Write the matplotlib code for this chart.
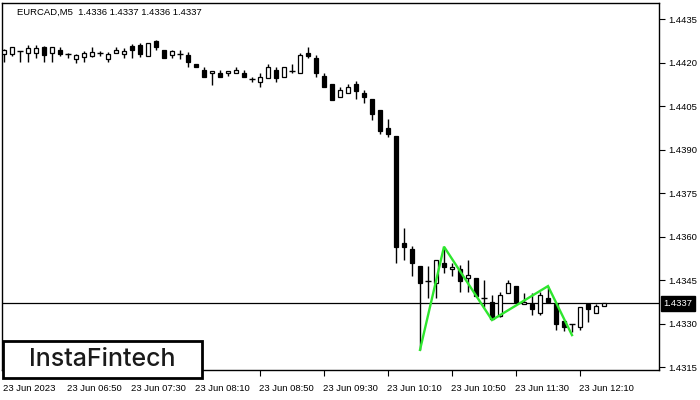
import matplotlib
matplotlib.use("Agg")

import matplotlib.pyplot as plt
import matplotlib.transforms as mtransforms
from matplotlib.patches import Rectangle

# EURCAD M5, 23 Jun 2023, one bar every 5 minutes from 06:10
opens = [
    1.44229, 1.44229, 1.44241, 1.44234, 1.44234, 1.44252, 1.44232, 1.44243, 1.44229, 1.44211,
    1.44218, 1.44222, 1.44232, 1.44211, 1.44234, 1.44229, 1.44257, 1.44260, 1.44222, 1.44274,
    1.44243, 1.44226, 1.44229, 1.44226, 1.44195, 1.44174, 1.44163, 1.44165, 1.44163, 1.44163,
    1.44165, 1.44142, 1.44134, 1.44146, 1.44174, 1.44151, 1.44172, 1.44163, 1.44232, 1.44214,
    1.44153, 1.44126, 1.44082, 1.44094, 1.44126, 1.44096, 1.44073, 1.44036, 1.43973, 1.43947,
    1.43577, 1.43556, 1.43498, 1.43448, 1.43439, 1.43508, 1.43487, 1.43487, 1.43456, 1.43456,
    1.43387, 1.43375, 1.43326, 1.43406, 1.43429, 1.43367, 1.43367, 1.43337, 1.43387, 1.43367,
    1.43310, 1.43298, 1.43287, 1.43367, 1.43337, 1.43360,
]
highs = [
    1.44247, 1.44253, 1.44241, 1.44260, 1.44260, 1.44257, 1.44253, 1.44254, 1.44234, 1.44229,
    1.44241, 1.44252, 1.44241, 1.44237, 1.44254, 1.44249, 1.44264, 1.44266, 1.44266, 1.44278,
    1.44243, 1.44243, 1.44243, 1.44237, 1.44195, 1.44183, 1.44172, 1.44174, 1.44172, 1.44183,
    1.44174, 1.44151, 1.44163, 1.44195, 1.44183, 1.44183, 1.44195, 1.44232, 1.44254, 1.44226,
    1.44163, 1.44126, 1.44117, 1.44126, 1.44137, 1.44105, 1.44073, 1.44036, 1.44004, 1.43947,
    1.43628, 1.43567, 1.43498, 1.43498, 1.43519, 1.43565, 1.43510, 1.43502, 1.43519, 1.43456,
    1.43450, 1.43398, 1.43410, 1.43450, 1.43429, 1.43406, 1.43406, 1.43410, 1.43429, 1.43370,
    1.43310, 1.43298, 1.43358, 1.43367, 1.43367, 1.43370,
]
lows = [
    1.44202, 1.44222, 1.44202, 1.44203, 1.44216, 1.44203, 1.44203, 1.44222, 1.44214, 1.44197,
    1.44203, 1.44218, 1.44222, 1.44203, 1.44232, 1.44214, 1.44216, 1.44220, 1.44222, 1.44243,
    1.44214, 1.44214, 1.44211, 1.44183, 1.44183, 1.44151, 1.44122, 1.44151, 1.44153, 1.44163,
    1.44151, 1.44134, 1.44114, 1.44146, 1.44134, 1.44151, 1.44163, 1.44163, 1.44214, 1.44151,
    1.44114, 1.44071, 1.44082, 1.44094, 1.44073, 1.44061, 1.44002, 1.43953, 1.43944, 1.43508,
    1.43519, 1.43464, 1.43209, 1.43387, 1.43387, 1.43473, 1.43464, 1.43410, 1.43410, 1.43395,
    1.43358, 1.43314, 1.43321, 1.43406, 1.43375, 1.43367, 1.43329, 1.43329, 1.43375, 1.43278,
    1.43275, 1.43272, 1.43278, 1.43306, 1.43337, 1.43360,
]
closes = [
    1.44243, 1.44252, 1.44241, 1.44249, 1.44249, 1.44226, 1.44252, 1.44229, 1.44229, 1.44226,
    1.44232, 1.44237, 1.44232, 1.44228, 1.44243, 1.44241, 1.44243, 1.44229, 1.44266, 1.44254,
    1.44214, 1.44241, 1.44229, 1.44203, 1.44183, 1.44151, 1.44172, 1.44151, 1.44172, 1.44174,
    1.44151, 1.44142, 1.44151, 1.44183, 1.44146, 1.44183, 1.44172, 1.44226, 1.44223, 1.44163,
    1.44114, 1.44071, 1.44105, 1.44114, 1.44103, 1.44082, 1.44022, 1.43965, 1.43953, 1.43565,
    1.43565, 1.43508, 1.43439, 1.43448, 1.43519, 1.43496, 1.43496, 1.43448, 1.43467, 1.43395,
    1.43387, 1.43314, 1.43398, 1.43439, 1.43375, 1.43375, 1.43349, 1.43398, 1.43375, 1.43298,
    1.43287, 1.43298, 1.43358, 1.43349, 1.43360, 1.43370,
]

tick_bars = [0, 8, 16, 24, 32, 40, 48, 56, 64, 72]
tick_labels = ["23 Jun 2023", "23 Jun 06:50", "23 Jun 07:30", "23 Jun 08:10", "23 Jun 08:50",
               "23 Jun 09:30", "23 Jun 10:10", "23 Jun 10:50", "23 Jun 11:30", "23 Jun 12:10"]
price_ticks = [1.4315, 1.4330, 1.4345, 1.4360, 1.4375, 1.4390, 1.4405, 1.4420, 1.4435]

last_price = 1.4337
header = "EURCAD,M5  1.4336 1.4337 1.4336 1.4337"

# pattern outline (green polyline)
pattern_bars = [52, 55, 61, 68, 71]
pattern_prices = [1.43209, 1.43565, 1.43312, 1.43429, 1.43260]

FONT = "Liberation Sans"
FS = 6.8

fig = plt.figure(figsize=(7, 4), dpi=100)
ax = fig.add_axes([2 / 700, 30 / 400, 657 / 700, 367 / 400])

idx = list(range(len(opens)))

# wicks
ax.vlines(idx, lows, highs, color="black", linewidth=1.0, zorder=2)

# bodies
body_x, body_bot, body_h, body_fc = [], [], [], []
doji_x, doji_y = [], []
for i, o, c in zip(idx, opens, closes):
    if abs(c - o) < 0.00002:
        doji_x.append(i)
        doji_y.append(o)
        continue
    body_x.append(i)
    body_bot.append(min(o, c))
    body_h.append(abs(c - o))
    body_fc.append("white" if c > o else "black")
ax.bar(body_x, body_h, bottom=body_bot, width=0.55, color=body_fc,
       edgecolor="black", linewidth=0.9, zorder=3)
ax.hlines(doji_y, [x - 0.32 for x in doji_x], [x + 0.32 for x in doji_x],
          color="black", linewidth=1.0, zorder=3)

# last price line
ax.axhline(last_price, color="black", linewidth=0.9, zorder=1)

# pattern
ax.plot(pattern_bars, pattern_prices, color="#2ee62e", linewidth=1.7,
        solid_joinstyle="miter", zorder=4)

ax.set_xlim(-0.25, 81.875)
ax.set_ylim(1.431397, 1.444052)

for s in ax.spines.values():
    s.set_linewidth(1.0)
    s.set_color("black")

ax.yaxis.tick_right()
ax.set_yticks(price_ticks)
ax.set_yticklabels([f"{p:.4f}" for p in price_ticks], fontsize=FS, family=FONT)
ax.tick_params(axis="y", direction="out", length=4, width=0.8, pad=2.5)

ax.set_xticks(tick_bars)
ax.set_xticklabels(tick_labels, fontsize=FS, family=FONT, ha="left")
ax.tick_params(axis="x", direction="out", length=4, width=0.8, pad=6)
for lbl in ax.get_xticklabels():
    lbl.set_transform(lbl.get_transform() + mtransforms.ScaledTranslation(-1 / 100, 0, fig.dpi_scale_trans))

# last price label on the scale
trans = mtransforms.blended_transform_factory(ax.transAxes, ax.transData)
ax.text(1.007, last_price, "1.4337", transform=trans, ha="left", va="center",
        fontsize=FS, family=FONT, color="white", clip_on=False, zorder=6,
        bbox=dict(boxstyle="square,pad=0.3", fc="black", ec="black"))

fig.text(17 / 700, 1 - 12 / 400, header, ha="left", va="center", fontsize=FS, family=FONT)

# logo
logo = Rectangle((3 / 700, 22 / 400), 199 / 700, 37 / 400, transform=fig.transFigure,
                 facecolor="white", edgecolor="black", linewidth=2, zorder=5)
fig.add_artist(logo)
fig.text(102.5 / 700, 1 - 359.5 / 400, "InstaFintech", ha="center", va="center",
         fontsize=18, family="Inter", fontweight="medium", color="#1a1a1a", zorder=6)

fig.savefig("out.png", dpi=100)
plt.close(fig)
